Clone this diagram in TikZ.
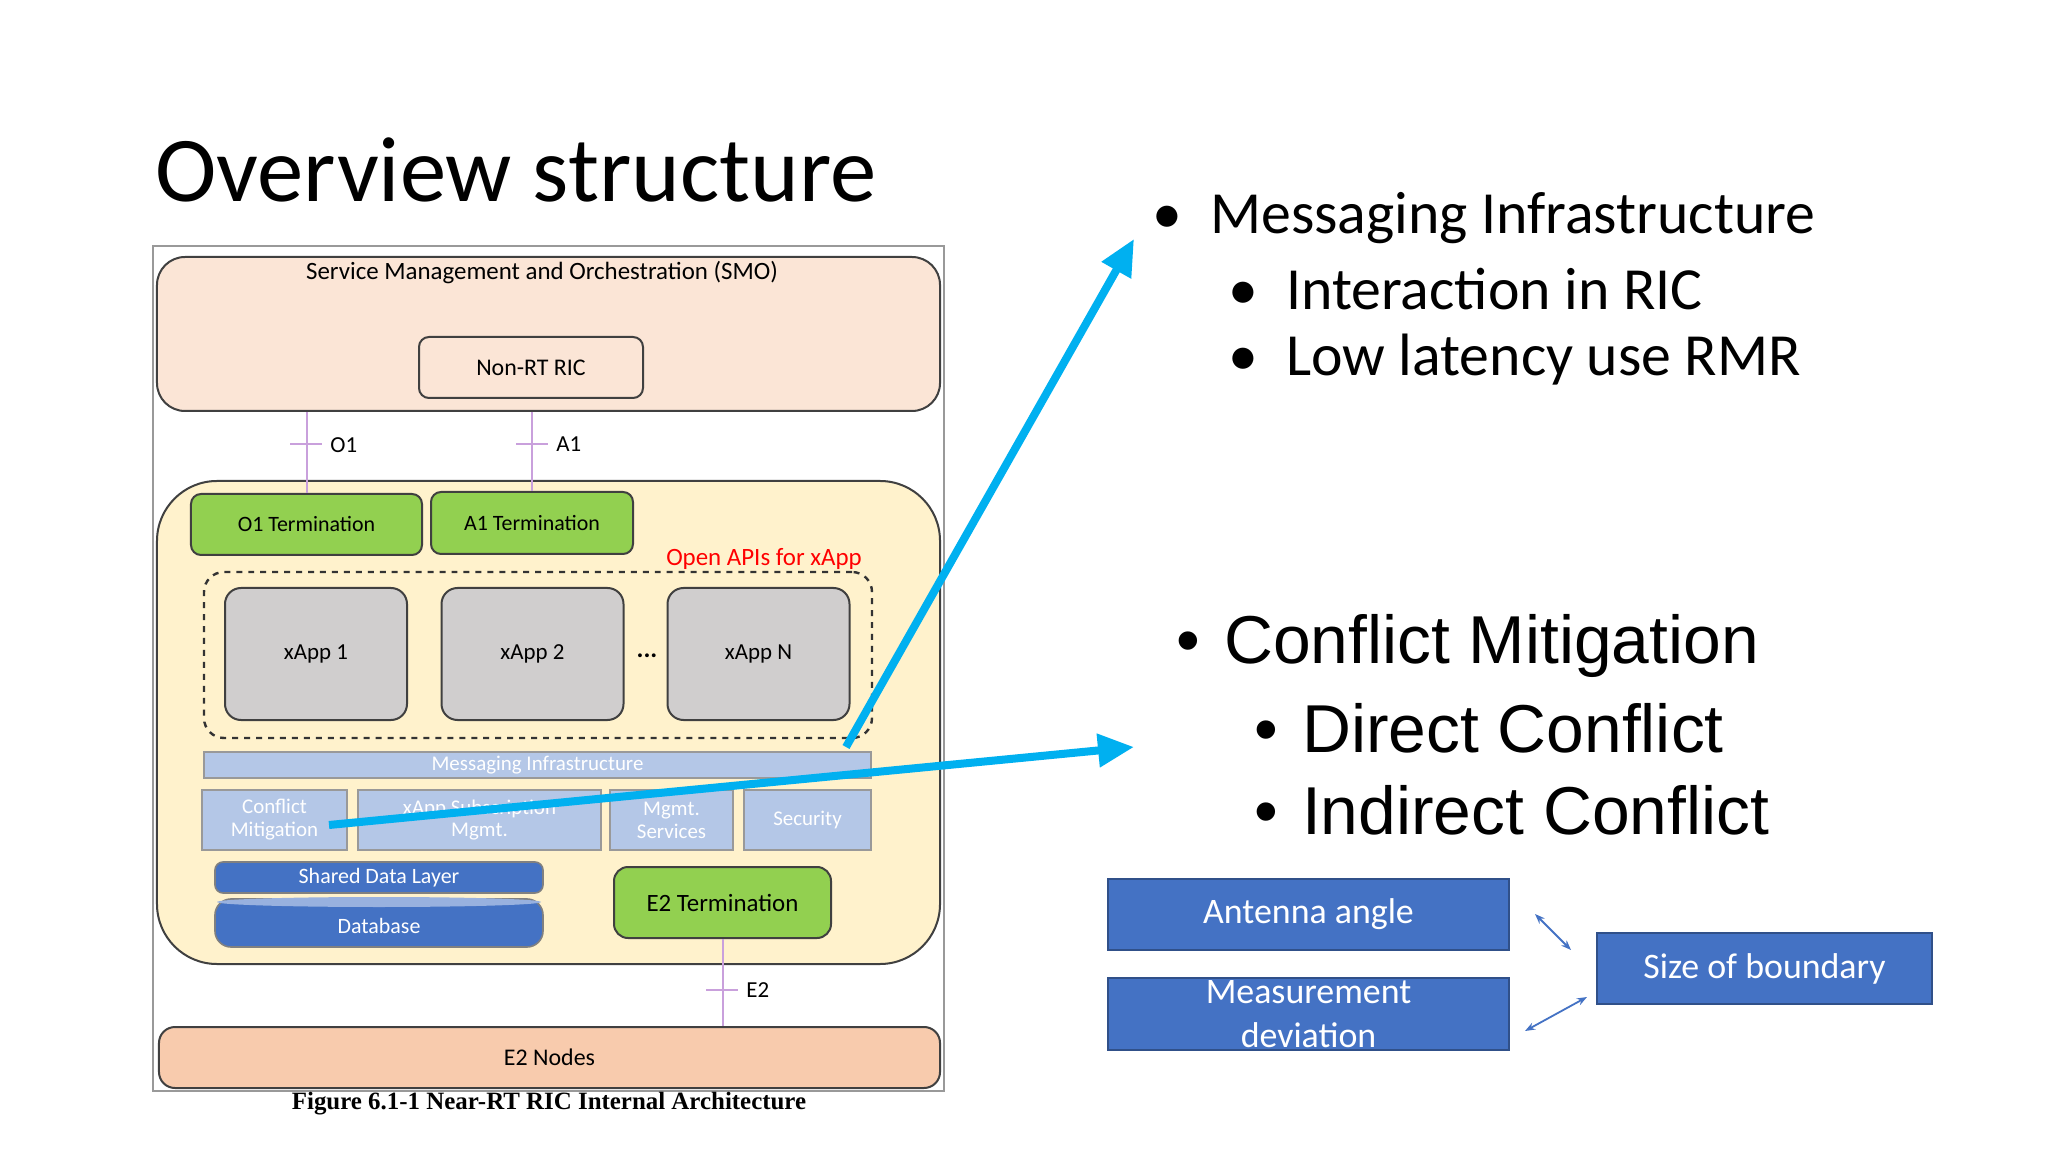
\documentclass[tikz,border=0pt]{standalone}
\usepackage{fontspec}
\setmainfont{Carlito}
\newfontfamily\arialf{Liberation Sans}
\newfontfamily\timesf{Liberation Serif}
\usetikzlibrary{arrows.meta,shapes.geometric}
\definecolor{peach}{HTML}{FBE5D6}
\definecolor{orng}{HTML}{F8CBAD}
\definecolor{ylw}{HTML}{FFF2CC}
\definecolor{grn}{HTML}{92D050}
\definecolor{gry}{HTML}{D0CECE}
\definecolor{lblue}{HTML}{B4C7E7}
\definecolor{dblue}{HTML}{4472C4}
\definecolor{cyanA}{HTML}{00B0F0}
\definecolor{purp}{HTML}{C9A0DC}
\begin{document}
\begin{tikzpicture}[x=0.5bp,y=-0.5bp,
  every node/.style={inner sep=0pt,align=center},
  fbox/.style={draw=black!75,line width=1bp,rounded corners=5bp,font=\fontsize{11}{12}\selectfont},
  term/.style={fbox,fill=grn},
  xapp/.style={fbox,fill=gry,rounded corners=8bp,font=\fontsize{11.5}{12}\selectfont},
  svc/.style={draw=black!40,fill=lblue,line width=0.8bp,text=white,font=\fontsize{10.5}{11.5}\selectfont},
  dbox/.style={draw=black!50,fill=dblue,line width=0.8bp,rounded corners=4bp,text=white,font=\fontsize{11}{12}\selectfont},
  iface/.style={purp,line width=1bp},
  lbl/.style={anchor=west,font=\fontsize{11.5}{12}\selectfont},
  rbox/.style={draw=dblue!70!black,fill=dblue,line width=0.8bp,text=white,font=\fontsize{18}{22}\selectfont},
  big/.style={-{Triangle[length=18bp,width=16bp]},cyanA,line width=4bp},
  small/.style={{Stealth[length=5bp]}-{Stealth[length=5bp]},dblue,line width=0.9bp}]
\useasboundingbox (0,0) rectangle (2048,1152);
\fill[white] (0,0) rectangle (2048,1152);
% title
\node[anchor=west,font=\fontsize{46.5}{52}\selectfont] (title) at (155,170) {Overview structure};
% figure
\node[draw=black!40,line width=0.8bp,minimum width=395.5bp,minimum height=422.5bp] (frame) at (548.5,668.5) {};
\node[fbox,fill=peach,rounded corners=14bp,minimum width=391.5bp,minimum height=77bp] (smo) at (548.5,334) {};
\node[font=\fontsize{12.5}{13}\selectfont] (smot) at (542,273) {Service Management and Orchestration (SMO)};
\node[fbox,fill=peach,minimum width=112bp,minimum height=30.5bp,font=\fontsize{12}{13}\selectfont] (nrt) at (531,367.5) {Non-RT RIC};
\node[fbox,fill=ylw,rounded corners=30bp,minimum width=391.5bp,minimum height=241.5bp] (ric) at (548.5,722.5) {};
\node[term,minimum width=115.5bp,minimum height=30.5bp] (o1t) at (306.5,524.5) {O1 Termination};
\node[term,minimum width=101bp,minimum height=31bp] (a1t) at (532,523) {A1 Termination};
\node[text=red,font=\fontsize{12.5}{13}\selectfont] (open) at (764,559) {Open APIs for xApp};
\node[draw=black!80,dashed,line width=1.2bp,rounded corners=10bp,minimum width=334bp,minimum height=83bp] (dash) at (538,655) {};
\node[xapp,minimum width=91bp,minimum height=66bp] (x1) at (316,654) {xApp 1};
\node[xapp,minimum width=91bp,minimum height=66bp] (x2) at (532.5,654) {xApp 2};
\node[xapp,minimum width=91bp,minimum height=66bp] (xn) at (758.5,654) {xApp N};
\node[font=\bfseries\fontsize{13}{13}\selectfont] (dots) at (647,656) {...};
\node[svc,minimum width=333.5bp,minimum height=13bp] (msg) at (537.5,765) {Messaging Infrastructure};
\node[svc,minimum width=72.5bp,minimum height=30bp] (cm) at (274.5,820) {Conflict\\Mitigation};
\node[svc,minimum width=121.5bp,minimum height=30bp] (sub) at (479.5,820) {xApp Subscription\\Mgmt.};
\node[svc,minimum width=61.5bp,minimum height=30bp] (ms) at (671.5,820) {Mgmt.\\Services};
\node[svc,minimum width=63.5bp,minimum height=30bp] (sec) at (807.5,820) {Security};
\node[dbox,minimum width=164bp,minimum height=15.5bp] (sdl) at (379,877.5) {Shared Data Layer};
\node[dbox,rounded corners=8bp,minimum width=164bp,minimum height=24bp] (db) at (379,923) {};
\fill[dblue!55] (379,902) ellipse (162 and 5);
\node[text=white,font=\fontsize{11}{12}\selectfont] (dbt) at (379,926) {Database};
\node[term,rounded corners=7bp,minimum width=108.5bp,minimum height=35.5bp,font=\fontsize{12.5}{13}\selectfont] (e2t) at (722.5,902.5) {E2 Termination};
\node[fbox,fill=orng,rounded corners=8bp,minimum width=390.5bp,minimum height=30.5bp,font=\fontsize{12}{13}\selectfont] (e2n) at (549.5,1057.5) {E2 Nodes};
\node[font=\timesf\bfseries\fontsize{12.5}{13}\selectfont] (cap) at (549,1104) {Figure 6.1-1 Near-RT RIC Internal Architecture};
% interfaces
\draw[iface] (o1t.north |- smo.south) -- (o1t.north);
\draw[iface] (a1t.north |- smo.south) -- (a1t.north);
\draw[iface] (e2t.south) -- (e2t.south |- e2n.north);
\draw[iface] (290,444) -- (322,444);
\draw[iface] (516,444) -- (548,444);
\draw[iface] (706,990) -- (738,990);
\node[lbl] (o1l) at (330,445) {O1};
\node[lbl] (a1l) at (556,444) {A1};
\node[lbl] (e2l) at (746,990) {E2};
% bullets
\node[anchor=west,font=\fontsize{30}{32}\selectfont] (b1) at (1152,218) {•\hspace{14bp}Messaging Infrastructure};
\node[anchor=west,font=\fontsize{30}{32}\selectfont] (b2) at (1228,289) {•\hspace{14bp}Interaction in RIC};
\node[anchor=west,font=\fontsize{30}{32}\selectfont] (b3) at (1228,360) {•\hspace{14bp}Low latency use RMR};
\node[anchor=west,font=\arialf\fontsize{34}{38}\selectfont] (c1) at (1176,646) {•\hspace{12bp}Conflict Mitigation};
\node[anchor=west,font=\arialf\fontsize{34}{38}\selectfont] (c2) at (1254,728) {•\hspace{12bp}Direct Conflict};
\node[anchor=west,font=\arialf\fontsize{34}{38}\selectfont] (c3) at (1254,810) {•\hspace{12bp}Indirect Conflict};
% cyan arrows
\coordinate (s1) at (846,747);
\coordinate (t1) at (1134,239);
\coordinate (s2) at (329,825);
\coordinate (t2) at (1134,747);
\draw[big] (s1) -- (t1);
\draw[big] (s2) -- (t2);
% right boxes
\node[rbox,minimum width=200.5bp,minimum height=35.5bp] (ant) at (1308.5,914.5) {Antenna angle};
\node[rbox,minimum width=200.5bp,minimum height=36bp,text depth=0pt] (mea) at (1308.5,1014) {Measurement\\deviation};
\node[rbox,minimum width=167.5bp,minimum height=35.5bp] (size) at (1764.5,968.5) {Size of boundary};
\coordinate (p1) at (1535,914);
\coordinate (p2) at (1571,950);
\coordinate (p3) at (1587,997);
\coordinate (p4) at (1525,1031);
\draw[small] (p1) -- (p2);
\draw[small] (p3) -- (p4);
\end{tikzpicture}
\end{document}
